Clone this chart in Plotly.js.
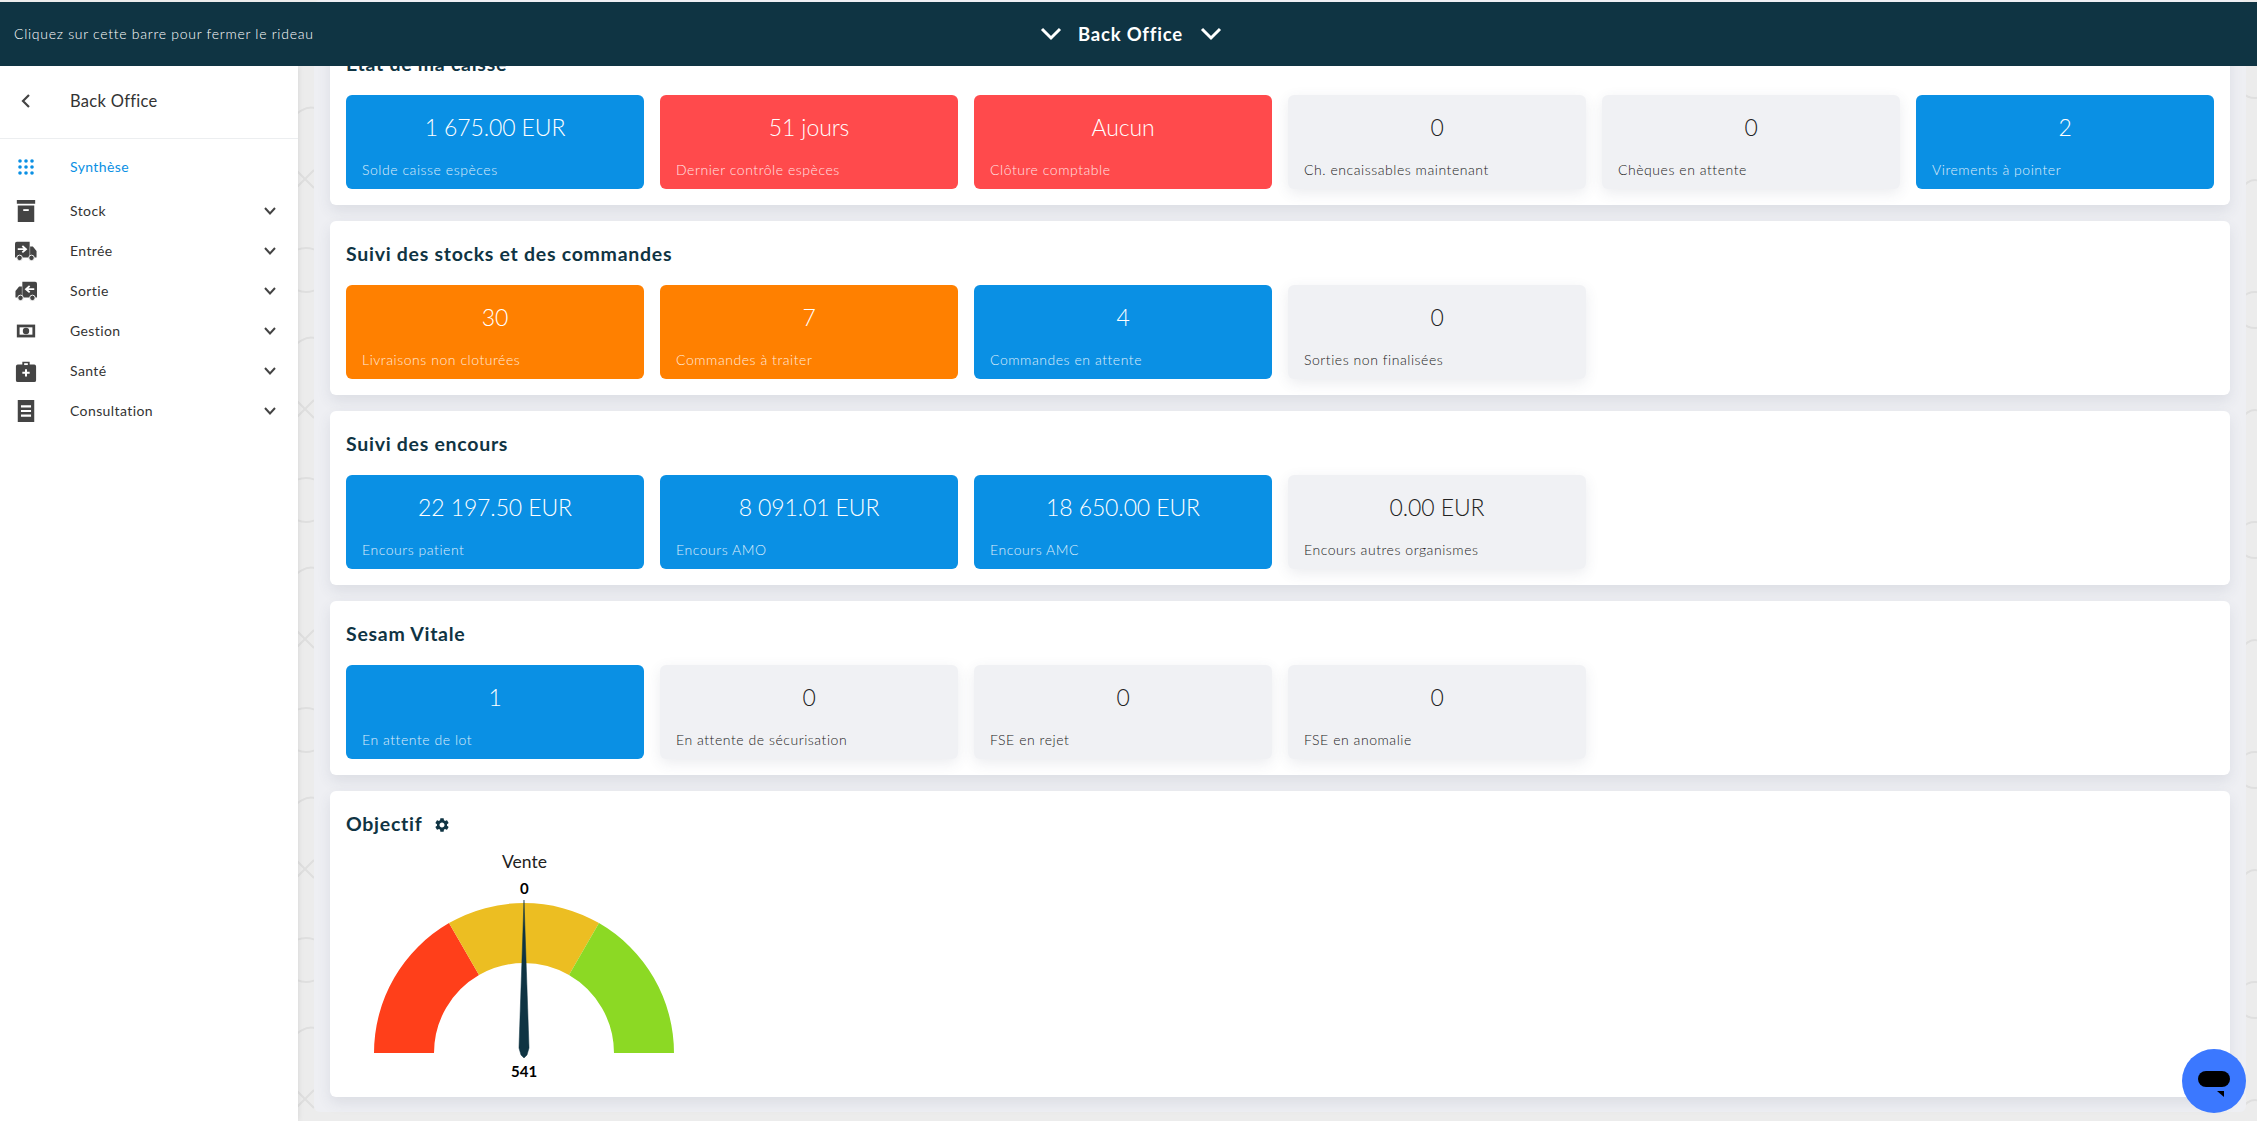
<!DOCTYPE html>
<html lang="fr">
<head>
<meta charset="utf-8">
<script src="https://cdn.plot.ly/plotly-3.0.1.min.js"></script>
<style>
html,body{margin:0;padding:0;width:2257px;height:1121px;overflow:hidden;font-family:Lato,"Open Sans",sans-serif;color:#333}
#bg{position:absolute;left:0;top:0;width:2257px;height:1121px;background-color:#ececec;
background-image:url("data:image/svg+xml,%3Csvg xmlns='http://www.w3.org/2000/svg' width='320' height='230'%3E%3Cg fill='none' stroke='%23dfdfdf' stroke-width='2'%3E%3Ccircle cx='306' cy='40' r='22'/%3E%3Cpath d='M290 120q24 -25 36 0t-10 30'/%3E%3Cpath d='M296 170l18 18m0 -18l-18 18'/%3E%3Ccircle cx='15' cy='80' r='18'/%3E%3Cpath d='M0 190q15 -20 30 0'/%3E%3C/g%3E%3C/svg%3E")}
#gap{position:absolute;left:314px;top:0;width:1932px;height:1112px;background:#eeeff3;border-radius:6px}
.panel{position:absolute;left:330px;width:1900px;background:#fff;border-radius:6px;box-shadow:0 6px 14px rgba(60,65,95,.10)}
.ptitle{position:absolute;left:346px;font-size:19.5px;font-weight:700;color:#0f3443;letter-spacing:.72px;line-height:24px;white-space:nowrap}
.card{position:absolute;width:298px;height:94px;border-radius:6px}
.card.gray{box-shadow:0 4px 14px rgba(60,65,95,.10)}
.card .val{position:absolute;left:0;right:0;top:16px;text-align:center;font-size:23px;font-weight:300;line-height:32px;letter-spacing:-.1px}
.card .lab{position:absolute;left:16px;top:66px;font-size:14px;font-weight:300;line-height:18px;letter-spacing:.55px;white-space:nowrap}
.blue{background:#0a90e4;color:#fff}.red{background:#ff4a4c;color:#fff}.orange{background:#ff8000;color:#fff}
.gray{background:#f0f1f4;color:#222}
.blue .lab,.red .lab,.orange .lab{opacity:.85}
#top{position:absolute;left:0;top:2px;width:2257px;height:64px;background:#0f3443;color:#fff;z-index:10}
#top .l{position:absolute;left:14px;top:23px;font-size:14px;line-height:18px;letter-spacing:.72px;font-weight:300}
#top .c{position:absolute;left:1078px;top:20px;font-size:18.5px;line-height:24px;font-weight:700;letter-spacing:.8px}
#side{position:absolute;left:0;top:66px;width:298px;height:1055px;background:#fff;z-index:5;box-shadow:0 0 6px rgba(0,0,0,.10)}
.mi{position:absolute;left:70px;font-size:14px;line-height:18px;font-weight:400;letter-spacing:.4px;color:#333;white-space:nowrap}
.abs{position:absolute}
#gauge{position:absolute;left:330px;top:791px;width:400px;height:420px;z-index:3}
#chat{position:absolute;left:2182px;top:1049px;width:64px;height:64px;border-radius:50%;background:#3b78ff;z-index:20}
</style>
</head>
<body>
<div id="bg"></div>
<div id="gap"></div>
<div id="root"></div>
<div id="gauge"></div>
<div id="top">
  <div class="l">Cliquez sur cette barre pour fermer le rideau</div>
  <svg class="abs" style="left:1040px;top:22px" width="22" height="20" viewBox="0 0 22 20"><path d="M2 5l9 9 9-9" fill="none" stroke="#fff" stroke-width="3"/></svg>
  <div class="c">Back Office</div>
  <svg class="abs" style="left:1200px;top:22px" width="22" height="20" viewBox="0 0 22 20"><path d="M2 5l9 9 9-9" fill="none" stroke="#fff" stroke-width="3"/></svg>
</div>
<div id="side"></div>
<div id="chat"><svg width="64" height="64" viewBox="0 0 64 64"><rect x="16" y="22" width="32" height="16" rx="8" fill="#000"/><path d="M35 42h7v6z" fill="#000"/></svg></div>
<script>
// ---- dashboard contents
var sectionTitles = ["État de ma caisse", "Suivi des stocks et des commandes", "Suivi des encours", "Sesam Vitale", "Objectif"];
var row1Values = ["1 675.00 EUR", "51 jours", "Aucun", "0", "0", "2"];
var row1Labels = ["Solde caisse espèces", "Dernier contrôle espèces", "Clôture comptable", "Ch. encaissables maintenant", "Chèques en attente", "Virements à pointer"];
var row1Colors = ["blue", "red", "red", "gray", "gray", "blue"];
var row2Values = ["30", "7", "4", "0"];
var row2Labels = ["Livraisons non cloturées", "Commandes à traiter", "Commandes en attente", "Sorties non finalisées"];
var row2Colors = ["orange", "orange", "blue", "gray"];
var row3Values = ["22 197.50 EUR", "8 091.01 EUR", "18 650.00 EUR", "0.00 EUR"];
var row3Labels = ["Encours patient", "Encours AMO", "Encours AMC", "Encours autres organismes"];
var row3Colors = ["blue", "blue", "blue", "gray"];
var row4Values = ["1", "0", "0", "0"];
var row4Labels = ["En attente de lot", "En attente de sécurisation", "FSE en rejet", "FSE en anomalie"];
var row4Colors = ["blue", "gray", "gray", "gray"];
var menuLabels = ["Synthèse", "Stock", "Entrée", "Sortie", "Gestion", "Santé", "Consultation"];

// ---- gauge data
var gaugeTitle = "Vente";
var gaugeCurrent = "0";
var gaugeTarget = "541";
var zoneNames = ["Faible", "Moyen", "Atteint"];
var zoneColors = ["#ff3f1a", "#ecbe22", "#8cd924"];
var zoneTheta = [150, 90, 30];
var zoneWidth = [60, 60, 60];
var zoneRadial = [60, 60, 60];
var zoneBase = [90, 90, 90];
var needleR = [153, 7.1, 3.6, 5, 3.6, 7.1, 153];
var needleTheta = [90, 45, -33.7, -90, 213.7, 135, 90];

// ---- page
var root = document.getElementById('root');
function add(cls, css, html){var d=document.createElement('div');d.className=cls;d.style.cssText=css;if(html!==undefined)d.innerHTML=html;root.appendChild(d);return d;}
var panelTop=[31,221,411,601,791], panelH=[174,174,174,174,306];
panelTop.forEach(function(t,i){
  add('panel','top:'+t+'px;height:'+panelH[i]+'px');
  add('ptitle','top:'+(t+20.5)+'px',sectionTitles[i]);
});
var rows=[[row1Values,row1Labels,row1Colors],[row2Values,row2Labels,row2Colors],[row3Values,row3Labels,row3Colors],[row4Values,row4Labels,row4Colors]];
rows.forEach(function(r,ri){
  r[0].forEach(function(v,ci){
    add('card '+r[2][ci],'left:'+(346+314*ci)+'px;top:'+(95+190*ri)+'px','<div class="val">'+v+'</div><div class="lab">'+r[1][ci]+'</div>');
  });
});
add('abs','left:435px;top:816px;width:14px;height:14px','<svg width="14" height="14" viewBox="2 2 20 20"><path fill="#0f3443" d="M19.14 12.94c.04-.3.06-.61.06-.94 0-.32-.02-.64-.07-.94l2.03-1.58c.18-.14.23-.41.12-.61l-1.92-3.32c-.12-.22-.37-.29-.59-.22l-2.39.96c-.5-.38-1.03-.7-1.62-.94l-.36-2.54c-.04-.24-.24-.41-.48-.41h-3.84c-.24 0-.43.17-.47.41l-.36 2.54c-.59.24-1.13.57-1.62.94l-2.39-.96c-.22-.08-.47 0-.59.22L2.74 8.87c-.12.21-.08.47.12.61l2.03 1.58c-.05.3-.09.63-.09.94s.02.64.07.94l-2.03 1.58c-.18.14-.23.41-.12.61l1.92 3.32c.12.22.37.29.59.22l2.39-.96c.5.38 1.03.7 1.62.94l.36 2.54c.05.24.24.41.48.41h3.84c.24 0 .44-.17.47-.41l.36-2.54c.59-.24 1.13-.56 1.62-.94l2.39.96c.22.08.47 0 .59-.22l1.92-3.32c.12-.22.07-.47-.12-.61l-2.01-1.58zM12 15.6c-1.98 0-3.6-1.62-3.6-3.6s1.62-3.6 3.6-3.6 3.6 1.62 3.6 3.6-1.62 3.6-3.6 3.6z"/></svg>');

// ---- sidebar
var side=document.getElementById('side');
var icons=[
 '<g fill="#0a90e4"><circle cx="4" cy="4" r="2.4"/><circle cx="12" cy="4" r="2.4"/><circle cx="20" cy="4" r="2.4"/><circle cx="4" cy="12" r="2.4"/><circle cx="12" cy="12" r="2.4"/><circle cx="20" cy="12" r="2.4"/><circle cx="4" cy="20" r="2.4"/><circle cx="12" cy="20" r="2.4"/><circle cx="20" cy="20" r="2.4"/></g>',
 '<path fill="#444" d="M2 0h20v4H2zM3 6h18v18H3z"/><rect x="9" y="10" width="6" height="2" fill="#fff"/>',
 '<path fill="#444" d="M0 4q0-2 2-2h14v17H0zM16.500 7h3l4 5v7h-7z"/><circle cx="5" cy="19.500" r="3" fill="#444" stroke="#fff"/><circle cx="18" cy="19.500" r="3" fill="#444" stroke="#fff"/><path d="M3 10h8M8 6.500l4 3.500-4 3.500" fill="none" stroke="#fff" stroke-width="2"/>',
 '<path fill="#444" d="M24 4q0-2-2-2H8v17h16zM7.500 7h-3l-4 5v7h7z"/><circle cx="19" cy="19.500" r="3" fill="#444" stroke="#fff"/><circle cx="6" cy="19.500" r="3" fill="#444" stroke="#fff"/><path d="M21 10h-8M16 6.500l-4 3.500 4 3.500" fill="none" stroke="#fff" stroke-width="2"/>',
 '<path fill="#444" d="M2 5h20v14H2z"/><rect x="5" y="8" width="14" height="8" fill="#fff"/><circle cx="12" cy="12" r="3.500" fill="#444"/>',
 '<path fill="#444" d="M8 5V2h8v3h5q2 0 2 2v15q0 2-2 2H3q-2 0-2-2V7q0-2 2-2z"/><rect x="10" y="3.500" width="4" height="2" fill="#fff"/><path d="M12 10v8M8 14h8" stroke="#fff" stroke-width="2.200"/>',
 '<path fill="#444" d="M3 0h18v24H3z"/><path d="M6.500 7h11M6.500 12h11M6.500 17h11" stroke="#fff" stroke-width="2.400"/>'
];
function sadd(cls,css,html){var d=document.createElement('div');d.className=cls;d.style.cssText=css;d.innerHTML=html||'';side.appendChild(d);}
sadd('abs','left:20px;top:27px','<svg width="12" height="16" viewBox="0 0 12 16"><path d="M9 2L3 8l6 6" fill="none" stroke="#444" stroke-width="2.200"/></svg>');
sadd('abs','left:70px;top:25px;font-size:16.500px;line-height:20px;font-weight:400;letter-spacing:.3px;color:#333','Back Office');
sadd('abs','left:0;top:72px;width:298px;height:1px;background:#eceef0','');
menuLabels.forEach(function(m,i){
  var cy=(i===0?167:211+40*(i-1))-66;
  sadd('mi','top:'+(cy-9)+'px;color:'+(i===0?'#0a90e4':'#333'),m);
  sadd('abs','left:'+(i===0?17:15)+'px;top:'+(cy-(i===0?9:12))+'px','<svg width="'+(i===0?18:22)+'" height="'+(i===0?18:24)+'" viewBox="0 0 24 24">'+icons[i]+'</svg>');
  if(i>0)sadd('abs','left:263px;top:'+(cy-8)+'px','<svg width="14" height="16" viewBox="0 0 14 16"><path d="M2 5l5 5.500L12 5" fill="none" stroke="#444" stroke-width="2"/></svg>');
});

// ---- gauge
var traces=[
 {type:'barpolar',name:'Zones',text:zoneNames,r:zoneRadial,base:zoneBase,theta:zoneTheta,width:zoneWidth,
  marker:{color:zoneColors,line:{width:0}},hoverinfo:'skip'},
 {type:'scatterpolar',mode:'lines',r:needleR,theta:needleTheta,fill:'toself',fillcolor:'#0f3443',
  line:{color:'#0f3443',width:0.5},cliponaxis:false,hoverinfo:'skip'}
];
var layout={
 width:400,height:420,margin:{l:0,r:0,t:0,b:0},paper_bgcolor:'rgba(0,0,0,0)',showlegend:false,
 font:{family:'Lato, "Open Sans", sans-serif'},
 polar:{domain:{x:[0.0975,0.8725],y:[0.00714,0.7452]},bgcolor:'rgba(0,0,0,0)',
  radialaxis:{visible:false,range:[0,155]},
  angularaxis:{visible:false,direction:'counterclockwise',rotation:0}},
 annotations:[
  {text:gaugeTitle,x:0.485,y:0.8333,xref:'paper',yref:'paper',showarrow:false,xanchor:'center',yanchor:'middle',font:{size:17.5,color:'#222'}},
  {text:'<b>'+gaugeCurrent+'</b>',x:0.485,y:0.769,xref:'paper',yref:'paper',showarrow:false,xanchor:'center',yanchor:'middle',font:{size:15,color:'#000'}},
  {text:'<b>'+gaugeTarget+'</b>',x:0.485,y:0.3333,xref:'paper',yref:'paper',showarrow:false,xanchor:'center',yanchor:'middle',font:{size:15,color:'#000'}}
 ]
};
Plotly.newPlot('gauge',traces,layout,{displayModeBar:false,staticPlot:true});
</script>
</body>
</html>
